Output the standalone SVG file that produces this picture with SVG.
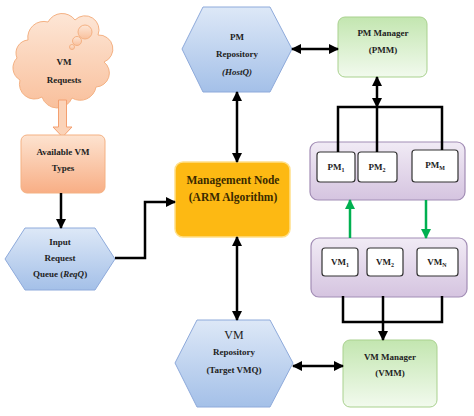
<svg xmlns="http://www.w3.org/2000/svg" width="474" height="416" viewBox="0 0 474 416">
<defs>
<linearGradient id="gPeach" x1="0" y1="0" x2="0" y2="1"><stop offset="0" stop-color="#fde3d0"/><stop offset="1" stop-color="#f8ae85"/></linearGradient>
<linearGradient id="gCloud" x1="0" y1="0" x2="0" y2="1"><stop offset="0" stop-color="#fde6d6"/><stop offset="1" stop-color="#f9c09c"/></linearGradient>
<linearGradient id="gBlue" x1="0" y1="0" x2="0" y2="1"><stop offset="0" stop-color="#dde8f7"/><stop offset="1" stop-color="#a4c0e8"/></linearGradient>
<linearGradient id="gGreen" x1="0" y1="0" x2="0" y2="1"><stop offset="0" stop-color="#c3e6b0"/><stop offset="1" stop-color="#f2faee"/></linearGradient>
<linearGradient id="gPurple" x1="0" y1="0" x2="0" y2="1"><stop offset="0" stop-color="#f1ebf5"/><stop offset="1" stop-color="#d5c4e0"/></linearGradient>
<marker id="ah" markerUnits="userSpaceOnUse" markerWidth="10" markerHeight="10" refX="9" refY="5" orient="auto-start-reverse" viewBox="0 0 10 10"><path d="M0,0 L10,5 L0,10 z" fill="#000"/></marker>
<marker id="ahg" markerUnits="userSpaceOnUse" markerWidth="10" markerHeight="10" refX="9" refY="5" orient="auto-start-reverse" viewBox="0 0 10 10"><path d="M0,0 L10,5 L0,10 z" fill="#00b050"/></marker>
<style>
.t{font-family:"Liberation Serif","Times New Roman",serif;font-weight:bold;font-size:9px;fill:#222;text-anchor:middle}
.big{font-size:11.5px;fill:#3a2a00}
.reg{font-weight:normal;font-size:12px}
.sub{font-size:6px}
.hex{fill:url(#gBlue);stroke:#8eaadb;stroke-width:1}
.grn{fill:url(#gGreen);stroke:#a9d18e;stroke-width:1}
.pur{fill:url(#gPurple);stroke:#a28db5;stroke-width:1.2}
.box{fill:#fff;stroke:#333;stroke-width:1.2}
.c{fill:none;stroke:#000;stroke-width:2.5}
.cg{fill:none;stroke:#00b050;stroke-width:2.5}
</style>
</defs>

<g id="vm-requests">
<path d="M28,40 A16,16 0 0 1 48,22 A16,16 0 0 1 75,20 A14,14 0 0 1 98,35 A14,14 0 0 1 104,62 A14,14 0 0 1 96,87 A16,16 0 0 1 72,98 A16,16 0 0 1 42,97 A15,15 0 0 1 20,80 A14,14 0 0 1 17,58 A13,13 0 0 1 28,40 Z" fill="url(#gCloud)" stroke="#f4b183" stroke-width="1"/>
<circle cx="85" cy="32" r="7" fill="url(#gCloud)" stroke="#f4b183"/>
<circle cx="77" cy="41" r="4.5" fill="url(#gCloud)" stroke="#f4b183"/>
<circle cx="72" cy="47" r="2.5" fill="url(#gCloud)" stroke="#f4b183"/>
<text class="t" x="64" y="65">VM</text>
<text class="t" x="64" y="83">Requests</text>
</g>

<g id="hollow-arrow">
<path d="M58.5,100 L66.5,100 L66.5,127 L72,127 L62.5,137 L53,127 L58.5,127 Z" fill="#fbd3b8" stroke="#f4a070" stroke-width="1"/>
</g>

<g id="available-vm-types">
<rect x="21" y="135" width="84" height="58" rx="6" fill="url(#gPeach)" stroke="#f4b183"/>
<text class="t" x="63" y="155">Available VM</text>
<text class="t" x="63" y="171">Types</text>
</g>

<g id="input-request-queue">
<polygon class="hex" points="25,228 95,228 115,259 95,290 25,290 5,259"/>
<text class="t" x="60" y="245">Input</text>
<text class="t" x="60" y="261">Request</text>
<text class="t" x="60" y="277">Queue (<tspan font-style="italic">ReqQ</tspan>)</text>
</g>

<g id="pm-repository">
<polygon class="hex" points="203,7 270,7 292,49 270,92 203,92 182,49"/>
<text class="t" x="237" y="40">PM</text>
<text class="t" x="237" y="57">Repository</text>
<text class="t" x="237" y="75" font-style="italic">(HostQ)</text>
</g>

<g id="management-node">
<rect x="175" y="162" width="115" height="75" rx="8" fill="#fdb913" stroke="#ffe08a" stroke-width="1.5"/>
<text class="t big" x="233" y="184">Management Node</text>
<text class="t big" x="233" y="201">(ARM Algorithm)</text>
</g>

<g id="vm-repository">
<polygon class="hex" points="197,320 270,320 293,363 270,407 197,407 175,363"/>
<text class="t reg" x="234" y="339">VM</text>
<text class="t" x="234" y="355">Repository</text>
<text class="t" x="234" y="373">(Target VMQ)</text>
</g>

<g id="pm-manager">
<rect x="338" y="17" width="89" height="60" rx="7" class="grn"/>
<text class="t" x="383" y="36">PM Manager</text>
<text class="t" x="383" y="53">(PMM)</text>
</g>

<g id="vm-manager">
<rect x="343" y="340" width="94" height="67" rx="7" class="grn"/>
<text class="t" x="390" y="360">VM Manager</text>
<text class="t" x="390" y="376">(VMM)</text>
</g>

<g id="pm-group">
<rect x="310" y="142" width="155" height="58" rx="8" class="pur"/>
<rect x="317" y="152" width="38" height="30" rx="3" class="box"/>
<rect x="358" y="152" width="39" height="30" rx="3" class="box"/>
<rect x="412" y="150" width="46" height="32" rx="3" class="box"/>
<text class="t" x="336" y="170">PM<tspan class="sub" dy="1.5">1</tspan></text>
<text class="t" x="377" y="170">PM<tspan class="sub" dy="1.5">2</tspan></text>
<text class="t" x="435" y="168">PM<tspan class="sub" dy="1.5">M</tspan></text>
</g>

<g id="vm-group">
<rect x="311" y="238" width="156" height="59" rx="8" class="pur"/>
<rect x="322" y="248" width="36" height="28" rx="3" class="box"/>
<rect x="367" y="248" width="36" height="28" rx="3" class="box"/>
<rect x="417" y="248" width="41" height="28" rx="3" class="box"/>
<text class="t" x="340" y="265">VM<tspan class="sub" dy="1.5">1</tspan></text>
<text class="t" x="385" y="265">VM<tspan class="sub" dy="1.5">2</tspan></text>
<text class="t" x="437" y="265">VM<tspan class="sub" dy="1.5">N</tspan></text>
</g>

<g id="connectors">
<line class="c" x1="61" y1="193" x2="61" y2="228" marker-end="url(#ah)"/>
<polyline class="c" points="115,258 145,258 145,202 175,202" marker-end="url(#ah)"/>
<line class="c" x1="237" y1="92" x2="237" y2="162" marker-start="url(#ah)" marker-end="url(#ah)"/>
<line class="c" x1="237" y1="237" x2="237" y2="320" marker-start="url(#ah)" marker-end="url(#ah)"/>
<line class="c" x1="292" y1="49" x2="338" y2="49" marker-start="url(#ah)" marker-end="url(#ah)"/>
<line class="c" x1="293" y1="366" x2="343" y2="366" marker-start="url(#ah)" marker-end="url(#ah)"/>
<line class="c" x1="377" y1="77" x2="377" y2="107" marker-start="url(#ah)" marker-end="url(#ah)"/>
<polyline class="c" points="338,152 338,107 442,107 442,150"/>
<line class="c" x1="377" y1="107" x2="377" y2="152"/>
<polyline class="c" points="343,296 343,322 442,322 442,296"/>
<line class="c" x1="383" y1="296" x2="383" y2="322"/>
<line class="c" x1="383" y1="322" x2="383" y2="340" marker-end="url(#ah)"/>
<line class="cg" x1="350" y1="238" x2="350" y2="200" marker-end="url(#ahg)"/>
<line class="cg" x1="426" y1="200" x2="426" y2="238" marker-end="url(#ahg)"/>
</g>
</svg>
